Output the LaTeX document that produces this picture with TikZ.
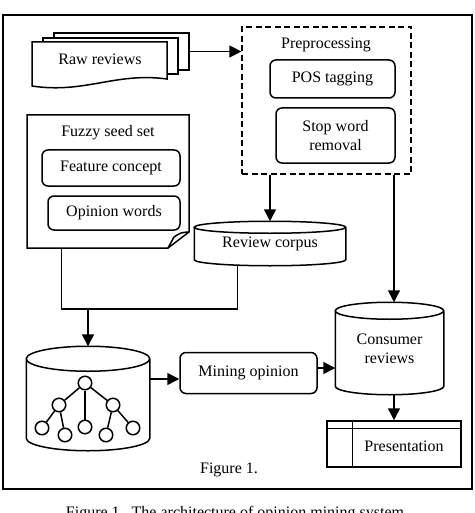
\documentclass[tikz,border=0pt]{standalone}
\usepackage{fontspec}
\setmainfont{Liberation Serif}
\usetikzlibrary{arrows.meta}
\usetikzlibrary{calc}

\newcommand{\drum}[2]{%
  \draw let \p1=(#1.north west), \p2=(#1.south east), \n1={(\x2-\x1)/2} in
    (\x1,\y1-#2) -- (\x1,\y2+#2)
    arc[start angle=180, end angle=360, x radius=\n1, y radius=#2]
    -- (\x2,\y1-#2)
    arc[start angle=0, end angle=180, x radius=\n1, y radius=#2]
    arc[start angle=180, end angle=360, x radius=\n1, y radius=#2];}

\begin{document}
\begin{tikzpicture}[x=1pt, y=-1pt, line width=1.5pt,
  font=\fontsize{16}{19}\selectfont,
  box/.style={draw, rounded corners=6pt, align=center, inner sep=0pt},
  sheet/.style={draw, fill=white, inner sep=0pt},
  arrow/.style={-{Triangle[length=12pt,width=12pt]}},
  leaf/.style={draw, circle, minimum size=13.5pt, inner sep=0pt, fill=white}]

\useasboundingbox (0,0) rectangle (474,513);

\draw[line width=1.8pt] (3,15) rectangle (472,489);

% raw reviews
\node[sheet, minimum width=135pt, minimum height=37pt] (rawback) at (121.5,51.5) {};
\node[sheet, minimum width=135pt, minimum height=36pt] (rawmid) at (110.5,56) {};
\draw[fill=white] (32,42) -- (167,42) -- (167,79) .. controls (115,72) and (85,94) .. (32,86) -- cycle;
\node (raw) at (100,59) {Raw reviews};

% preprocessing
\node[draw, line width=1.3pt, dash pattern=on 6pt off 3.5pt, minimum width=169pt, minimum height=147pt] (prep) at (326.5,100.5) {};
\node (preplabel) at (326,45) {Preprocessing};
\node[box, minimum width=125pt, minimum height=38pt] (pos) at (332.5,79) {POS tagging};
\node[box, minimum width=119pt, minimum height=55pt] (stop) at (335.5,135.5) {Stop word\\removal};

\draw[arrow] (rawback.east) -- (rawback.east -| prep.west);

% fuzzy seed set
\node[minimum width=162pt, minimum height=133pt, inner sep=0pt] (fuzzy) at (108,181.5) {};
\draw (27,115) -- (189,115) -- (189,232) -- (168,248) -- (27,248) -- cycle;
\draw (189,232) .. controls (181,232.5) .. (174,237) -- (168,248);
\node (fuzzylabel) at (108,133) {Fuzzy seed set};
\node[box, minimum width=138pt, minimum height=36pt] (feat) at (111,168) {Feature concept};
\node[box, minimum width=132pt, minimum height=34pt] (opin) at (114,213) {Opinion words};

% review corpus
\node[minimum width=150pt, minimum height=43pt, inner sep=0pt] (corpus) at (270,243.5) {Review corpus};
\drum{corpus}{6pt}

\draw[arrow] (prep.south -| corpus.north) -- (corpus.north);

% knowledge base
\node[minimum width=122pt, minimum height=103pt, inner sep=0pt] (kb) at (88,398.5) {};
\drum{kb}{12.5pt}

\node[leaf] (t0) at (85,383) {};
\node[leaf] (t1) at (59,405) {};
\node[leaf] (t2) at (113,405) {};
\node[leaf] (l1) at (42,428) {};
\node[leaf] (l2) at (65,435) {};
\node[leaf] (l3) at (85,427) {};
\node[leaf] (l4) at (106,435) {};
\node[leaf] (l5) at (133,428) {};
\draw (t0) -- (t1);
\draw (t0) -- (t2);
\draw (t0) -- (l3);
\draw (t1) -- (l1);
\draw (t1) -- (l2);
\draw (t2) -- (l4);
\draw (t2) -- (l5);

\coordinate (merge) at (88,309);
\draw ([xshift=35pt]fuzzy.south west) |- (merge) -| ([xshift=43pt]corpus.south west);
\draw[arrow] (merge) -- (kb.north);

% mining and output
\node[box, minimum width=137pt, minimum height=41pt] (mine) at (248.5,373) {Mining opinion};
\draw[arrow] ([yshift=-6pt]kb.east |- mine.west) -- ([yshift=-6pt]mine.west);

\node[minimum width=107pt, minimum height=91pt, inner sep=0pt, align=center] (cons) at (389.5,348.5) {Consumer\\reviews};
\drum{cons}{8.5pt}

\node[draw, minimum width=134pt, minimum height=46pt, inner sep=0pt] (pres) at (394,444) {};
\draw ([xshift=26pt]pres.north west) -- ([xshift=26pt]pres.south west);
\draw ([yshift=-8pt]pres.north west) -- ([yshift=-8pt]pres.north east);
\node (preslabel) at (404,446) {Presentation};

\draw[arrow] ([yshift=5pt]mine.east) -- ([yshift=5pt]cons.west |- mine.east);
\draw[arrow] (prep.south -| pres.north) -- (cons.north -| pres.north);
\draw[arrow] (pres.north |- cons.south) -- (pres.north);

\node (fig) at (229,470) {Figure 1.};
\node[anchor=base] (caption) at (235,517) {Figure 1.\ \ The architecture of opinion mining system};

\end{tikzpicture}
\end{document}
